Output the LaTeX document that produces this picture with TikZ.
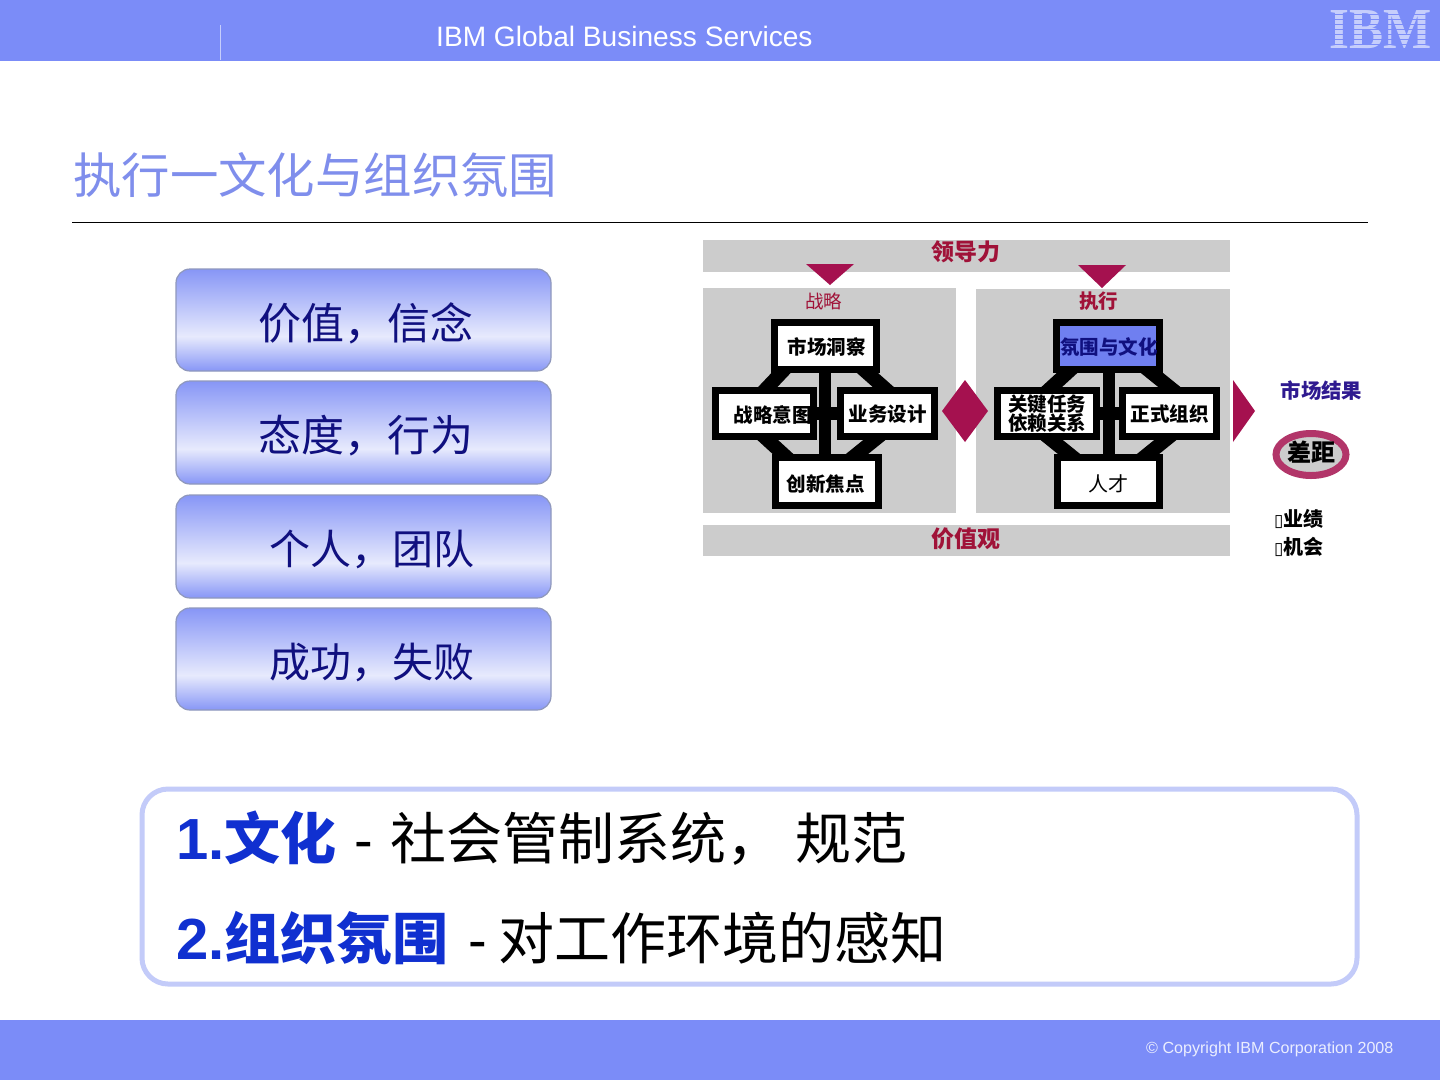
\documentclass[tikz,border=0pt]{standalone}
\usepackage{fontspec}
\usetikzlibrary{shapes.geometric,calc}
\setmainfont{Liberation Sans}
\newfontfamily\cjk{Noto Sans CJK SC}
\newfontfamily\latinsf{Liberation Sans}
\newfontfamily\serifb{Liberation Serif}
\newfontfamily\dejavu{DejaVu Sans}
\definecolor{band}{HTML}{7B8CF8}
\definecolor{titleblue}{HTML}{7F8EEC}
\definecolor{crimson}{HTML}{A5114F}
\definecolor{labelred}{HTML}{A01238}
\definecolor{panelgrey}{HTML}{CCCCCC}
\definecolor{navy}{HTML}{10107F}
\definecolor{strongblue}{HTML}{1030D0}
\definecolor{btnedge}{HTML}{8F98BC}
\definecolor{btndark}{HTML}{8796F6}
\definecolor{btnlight}{HTML}{E7EAFD}
\definecolor{frameblue}{HTML}{C3CBF9}
\definecolor{logoc}{HTML}{C6CEFC}
\definecolor{cellblue}{HTML}{6F7FF0}
\definecolor{resultblue}{HTML}{2F1A90}
\pgfdeclareverticalshading{btnshade}{100bp}{color(0bp)=(btndark); color(25bp)=(btndark); color(42bp)=(btnlight); color(75bp)=(btndark); color(100bp)=(btndark)}
\pgfdeclarelayer{under}
\pgfdeclarelayer{mid}
\pgfsetlayers{under,mid,main}
\newcommand{\dn}[2]{\raisebox{-#1pt}[\height][\depth]{#2}}
\tikzset{
  x=1pt,y=-1pt,
  bandbox/.style={fill=band,draw=none},
  panel/.style={fill=panelgrey,draw=none},
  btn/.style={shape=rectangle,rounded corners=14pt,draw=btnedge,line width=1.2pt,shading=btnshade,minimum width=375pt,minimum height=102pt,inner sep=0pt,font=\cjk\fontsize{43}{46}\selectfont,text=navy},
  cell/.style={shape=rectangle,draw=black,line width=7pt,fill=white,inner sep=0pt,font=\cjk\bfseries\fontsize{19.5}{20}\selectfont,text=black,align=center},
  link/.style={draw=black,line width=14pt,shorten <=-11pt,shorten >=-11pt},
  bar/.style={draw=black,line width=12.5pt},
  wedge/.style={fill=crimson,draw=none},
  redlabel/.style={font=\cjk\bfseries\fontsize{23}{25}\selectfont,text=labelred,inner sep=0pt},
  sidelabel/.style={font=\cjk\bfseries\fontsize{20}{22}\selectfont,text=black,inner sep=0pt,anchor=west},
  bigline/.style={anchor=west,inner sep=0pt,font=\cjk\fontsize{56}{60}\selectfont,text=black},
}
\begin{document}
\begin{tikzpicture}
\useasboundingbox (0,0) rectangle (1440,1080);
\begin{pgfonlayer}{under}
\fill[white] (0,0) rectangle (1440,1080);
\fill[panel] (703,240) rectangle (1230,272);
\fill[panel] (703,525) rectangle (1230,556);
\fill[panel] (703,288) rectangle (956,513);
\fill[panel] (976,289) rectangle (1230,513);
\end{pgfonlayer}
% bands
\fill[bandbox] (0,0) rectangle (1440,61);
\fill[bandbox] (0,1020) rectangle (1440,1080);
\draw[logoc,line width=1pt] (220.5,25) -- (220.5,60);
\node[anchor=west,inner sep=0pt,text=white,font=\fontsize{28.1}{30}\selectfont] (hdr) at (436,36) {IBM Global Business Services};
\node[anchor=west,inner sep=0pt,text=white!85!band,font=\fontsize{16.1}{20}\selectfont] (copy) at (1146,1049) {© Copyright IBM Corporation 2008};
% logo
\node[inner sep=0pt,text=logoc,font=\serifb\bfseries\fontsize{58}{58}\selectfont,xscale=.88] (logo) at (1381,30) {IBM};
\foreach \yy in {14.5,19.5,24.5,29.5,34.5,39.5,44.5}
  \draw[band,line width=1.8pt] (1328,\yy) -- (1434,\yy);
% title
\node[anchor=west,inner sep=0pt,text=titleblue,font=\cjk\fontsize{48.4}{52}\selectfont] (title) at (73,175) {执行一文化与组织氛围};
\draw[black,line width=1pt] (72,222.5) -- (1368,222.5);
% buttons
\node[btn] (b1) at (363.5,320) {\hspace*{5pt}\dn{3}{价值，信念}};
\node[btn,minimum height=103pt] (b2) at (363.5,432.5) {\hspace*{4pt}\dn{3}{态度，行为}};
\node[btn,minimum height=103pt,font=\cjk\fontsize{41}{46}\selectfont] (b3) at (363.5,546.5) {\hspace*{16pt}\dn{3}{个人，团队}};
\node[btn,font=\cjk\fontsize{41}{46}\selectfont] (b4) at (363.5,659) {\hspace*{17pt}\dn{3}{成功，失败}};
% model labels and markers
\node[redlabel] (lead) at (966,252) {领导力};
\node[redlabel] (vals) at (966,539) {价值观};
\fill[wedge] (806,264) -- (854,264) -- (830,285) -- cycle;
\fill[wedge] (1078,265) -- (1126,265) -- (1102,288) -- cycle;
\fill[wedge] (965,380) -- (988,411) -- (965,442) -- (942,411) -- cycle;
\fill[wedge] (1233,380) -- (1255,411) -- (1233,442) -- cycle;
\node[inner sep=0pt,text=labelred,font=\cjk\fontsize{18.5}{20}\selectfont] (strat) at (823.5,301) {战略};
\node[inner sep=0pt,text=labelred,font=\cjk\bfseries\fontsize{19.5}{20}\selectfont] (exec) at (1098.5,301) {执行};
% left model
\node[cell,minimum width=102pt,minimum height=47pt] (la) at (825.5,346) {\hspace*{2pt}\dn{1}{市场洞察}};
\node[cell,minimum width=98pt,minimum height=46.5pt] (lb) at (764.5,413.5) {\hspace*{16pt}\dn{1}{战略意图}};
\node[cell,minimum width=94pt,minimum height=46.5pt] (lc) at (887.5,413.5) {\dn{1}{业务设计}};
\node[cell,minimum width=103pt,minimum height=48pt] (ld) at (827,481.5) {\hspace*{-3pt}\dn{3}{创新焦点}};
\begin{pgfonlayer}{mid}
\draw[link] ([xshift=10pt]la.south west) -- ([xshift=56pt]lb.north west);
\draw[link] ([xshift=-12.5pt]la.south east) -- ([xshift=-55pt]lc.north east);
\draw[link] ([xshift=56pt]lb.south west) -- ([xshift=11pt]ld.north west);
\draw[link] ([xshift=-64pt]lc.south east) -- ([xshift=-25pt]ld.north east);
\draw[bar] ([xshift=-.5pt]la.south) -- ([xshift=-2pt]ld.north);
\draw[bar] (lb.east) -- (lc.west);
\end{pgfonlayer}
% right model
\node[cell,fill=cellblue,text=navy,minimum width=103pt,minimum height=47pt] (ra) at (1108,346) {\hspace*{2pt}\dn{1}{氛围与文化}};
\node[cell,minimum width=99pt,minimum height=46.5pt,font=\cjk\bfseries\fontsize{19.5}{19.5}\selectfont] (rb) at (1047,413.5) {关键任务\\依赖关系};
\node[cell,minimum width=94pt,minimum height=46.5pt] (rc) at (1169.5,413.5) {\dn{1}{正式组织}};
\node[cell,minimum width=102pt,minimum height=48pt,font=\cjk\fontsize{20}{22}\selectfont] (rd) at (1108.5,481.5) {\dn{2}{人才}};
\begin{pgfonlayer}{mid}
\draw[link] ([xshift=14pt]ra.south west) -- ([xshift=58pt]rb.north west);
\draw[link] ([xshift=-11pt]ra.south east) -- ([xshift=-51pt]rc.north east);
\draw[link] ([xshift=58pt]rb.south west) -- ([xshift=15pt]rd.north west);
\draw[link] ([xshift=-55pt]rc.south east) -- ([xshift=-15pt]rd.north east);
\draw[bar] ([xshift=1pt]ra.south) -- ([xshift=.5pt]rd.north);
\draw[bar] (rb.east) -- (rc.west);
\end{pgfonlayer}
% results
\node[inner sep=0pt,text=resultblue,font=\cjk\bfseries\fontsize{20.4}{22}\selectfont] (res) at (1321.5,391) {市场结果};
\node[ellipse,draw=crimson!85!white,line width=7pt,fill=panelgrey,minimum width=70pt,minimum height=42pt,inner sep=0pt,font=\cjk\bfseries\fontsize{24}{25}\selectfont,text=black] (gap) at (1311,454.5) {\dn{-2}{差距}};
\node[sidelabel] (p1) at (1274,519) {{\dejavu\fontsize{17}{18}\selectfont ▯}业绩};
\node[sidelabel] (p2) at (1274,547) {{\dejavu\fontsize{17}{18}\selectfont ▯}机会};
% lower frame
\draw[frameblue,line width=5pt,rounded corners=26pt,fill=white] (142,789) rectangle (1357,984);
\node[bigline] (l1) at (176,838) {\textcolor{strongblue}{\latinsf\bfseries\fontsize{58}{60}\selectfont 1.}\textcolor{strongblue}{\bfseries 文化}\hspace{18pt}{\latinsf -}\hspace{17pt}社会管制系统，\hspace{13pt}规范};
\node[bigline] (l2) at (176,938) {\textcolor{strongblue}{\latinsf\bfseries\fontsize{58}{60}\selectfont 2.}\textcolor{strongblue}{\bfseries 组织氛围}\hspace{20pt}{\latinsf -}\hspace{11pt}对工作环境的感知};
\end{tikzpicture}
\end{document}
